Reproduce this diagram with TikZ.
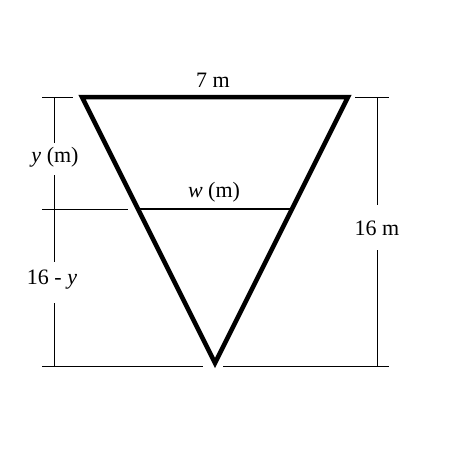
\documentclass[tikz,border=0pt]{standalone}
\usepackage{fontspec}
\setmainfont{Liberation Serif}
\begin{document}
\begin{tikzpicture}[x=1pt,y=-1pt,
  thickline/.style={line width=4.5pt,line join=miter},
  midline/.style={line width=2.5pt},
  thinline/.style={line width=1pt},
  lbl/.style={font=\fontsize{22}{26}\selectfont,inner sep=0pt}]
\useasboundingbox (0,0) rectangle (450,450);
\fill[white] (0,0) rectangle (450,450);
% triangle
\coordinate (A) at (82,97);
\coordinate (B) at (348,97);
\coordinate (C) at (215,363);
\draw[thickline] (A) -- (B) -- (C) -- cycle;
\coordinate (ML) at (136,209);
\coordinate (MR) at (292,209);
\draw[midline] (ML) -- (MR);
% labels
\node[lbl] (t7) at (213,80) {7 m};
\node[lbl] (tw) at (214,192) {\textit{w} (m)};
\node[lbl] (ty) at (55,157) {\textit{y} (m)};
\node[lbl] (t16y) at (52,280) {16 - \textit{y}};
\node[lbl] (t16) at (377,228) {16 m};
% left dimension
\coordinate (L1a) at (42,97.5); \coordinate (L1b) at (73,97.5);
\coordinate (L2a) at (42,209); \coordinate (L2b) at (128,209);
\coordinate (L3a) at (42,366); \coordinate (L3b) at (203,366);
\coordinate (L3c) at (223,366); \coordinate (L3d) at (389,366);
\draw[thinline] (L1a) -- (L1b);
\draw[thinline] (L2a) -- (L2b);
\draw[thinline] (L3a) -- (L3b);
\draw[thinline] (L3c) -- (L3d);
\coordinate (V1) at (54.5,97.5); \coordinate (V2) at (54.5,143);
\coordinate (V3) at (54.5,175); \coordinate (V4) at (54.5,262);
\coordinate (V5) at (54.5,303); \coordinate (V6) at (54.5,366);
\draw[thinline] (V1) -- (V2);
\draw[thinline] (V3) -- (V4);
\draw[thinline] (V5) -- (V6);
% right dimension
\coordinate (R1a) at (355,97.5); \coordinate (R1b) at (389,97.5);
\draw[thinline] (R1a) -- (R1b);
\coordinate (W1) at (377,97.5); \coordinate (W2) at (377,205);
\coordinate (W3) at (377,250); \coordinate (W4) at (377,366);
\draw[thinline] (W1) -- (W2);
\draw[thinline] (W3) -- (W4);
\end{tikzpicture}
\end{document}
